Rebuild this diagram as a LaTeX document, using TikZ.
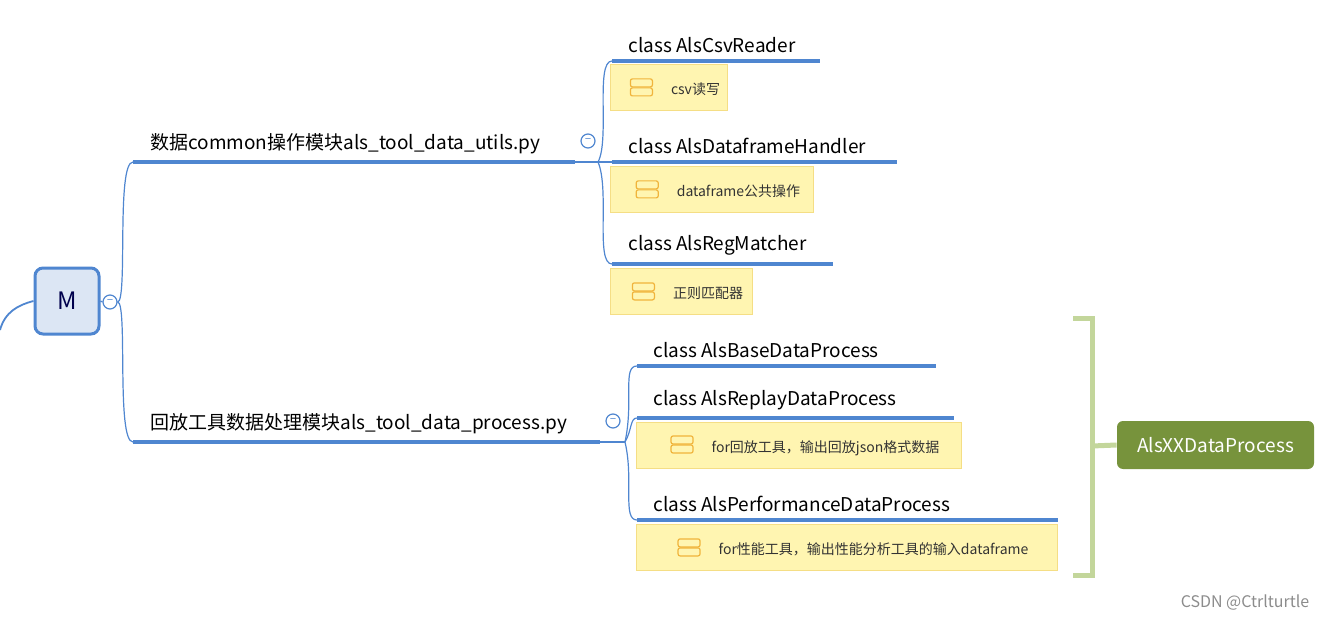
\documentclass[tikz,border=0pt]{standalone}
\usepackage{fontspec}
\setmainfont{Noto Sans CJK SC}
\usetikzlibrary{positioning}
\definecolor{linkblue}{HTML}{4F86D0}
\definecolor{rootfill}{HTML}{DCE6F4}
\definecolor{notefill}{HTML}{FFF5B1}
\definecolor{noteline}{HTML}{F5DE85}
\definecolor{iconline}{HTML}{F0B43C}
\definecolor{bracegreen}{HTML}{C3D69B}
\definecolor{sumfill}{HTML}{77933C}
\tikzset{
  link/.style = {draw=linkblue, line width=0.6pt},
  underline/.style = {draw=linkblue, line width=2pt},
  topic/.style = {anchor=south west, inner sep=1pt, font=\fontsize{9.5}{11}\selectfont},
  note/.style = {anchor=north west, draw=noteline, fill=notefill, minimum height=23pt,
    inner sep=0pt, align=left, font=\fontsize{7}{8}\selectfont, text=black!80},
  fold/.style = {circle, draw=linkblue, fill=white, minimum size=7pt, inner sep=0pt,
    line width=0.6pt, font=\fontsize{6}{6}\selectfont, text=linkblue}
}
\newcommand{\noteicon}{\tikz[baseline=0.5pt]{
  \draw[iconline, fill=notefill, rounded corners=1pt, line width=0.6pt] (0,0) rectangle (11pt,4pt);
  \draw[iconline, fill=notefill, rounded corners=1pt, line width=0.6pt] (0,4.5pt) rectangle (11pt,8.5pt);}}
\begin{document}
\begin{tikzpicture}[x=0.5pt, y=-0.5pt]
  \useasboundingbox (0,0) rectangle (1332,620);

  % root
  \node (root) [draw=linkblue, line width=1.5pt, fill=rootfill, rounded corners=4pt,
    minimum width=32pt, minimum height=33pt, text=black!70!blue,
    font=\fontsize{12}{12}\selectfont] at (67,301) {M};
  \draw[link, line width=0.9pt] (0,330) .. controls (5,312) and (18,305) .. (root.west);
  \node (rootfold) [fold] at (110,302) {--};
  \draw[link] (root.east) -- (rootfold.west);

  % first branch
  \coordinate (b1) at (133,162);
  \coordinate (b1e) at (575,162);
  \node (t1) [topic] at (148,156) {数据common操作模块als\_tool\_data\_utils.py};
  \draw[underline] (b1) -- (b1e);
  \draw[link] (rootfold.east) .. controls (128,302) and (116,162) .. (b1);
  \node (f1) [fold] at (588,141) {--};
  \coordinate (h1) at (598,162);
  \draw[link] (b1e) -- (h1);

  \coordinate (c1) at (612,61);
  \coordinate (c2) at (612,162);
  \coordinate (c3) at (612,264);
  \draw[link] (h1) .. controls (610,140) and (595,61) .. (c1);
  \draw[link] (h1) -- (c2);
  \draw[link] (h1) .. controls (610,190) and (595,264) .. (c3);
  \draw[underline] (c1) -- (820,61);
  \draw[underline] (c2) -- (897,162);
  \draw[underline] (c3) -- (833,264);
  \node (csvreader) [topic] at (626,55) {class AlsCsvReader};
  \node (dfhandler) [topic] at (626,156) {class AlsDataframeHandler};
  \node (regmatcher) [topic] at (626,258) {class AlsRegMatcher};
  \node (n1) [note, minimum width=58.5pt] at (610,64) {\hspace{6pt}\noteicon\hspace{9pt}csv读写};
  \node (n2) [note, minimum width=101.5pt] at (610,166) {\hspace{6pt}\noteicon\hspace{9pt}dataframe公共操作};
  \node (n3) [note, minimum width=71pt] at (610,268) {\hspace{6pt}\noteicon\hspace{9pt}正则匹配器};

  % second branch
  \coordinate (b2) at (133,442);
  \coordinate (b2e) at (600,442);
  \node (t2) [topic] at (148,436) {回放工具数据处理模块als\_tool\_data\_process.py};
  \draw[underline] (b2) -- (b2e);
  \draw[link] (rootfold.east) .. controls (128,302) and (116,442) .. (b2);
  \node (f2) [fold] at (613,421) {--};
  \coordinate (h2) at (625,442);
  \draw[link] (b2e) -- (h2);

  \coordinate (d1) at (637,366);
  \coordinate (d2) at (637,418);
  \coordinate (d3) at (637,520);
  \draw[link] (h2) .. controls (634,400) and (622,366) .. (d1);
  \draw[link] (h2) .. controls (632,430) and (630,418) .. (d2);
  \draw[link] (h2) .. controls (634,480) and (622,520) .. (d3);
  \draw[underline] (d1) -- (936,366);
  \draw[underline] (d2) -- (954,418);
  \draw[underline] (d3) -- (1058,520);
  \node (baseproc) [topic] at (651,360) {class AlsBaseDataProcess};
  \node (replayproc) [topic] at (651,412) {class AlsReplayDataProcess};
  \node (perfproc) [topic] at (651,514) {class AlsPerformanceDataProcess};
  \node (n4) [note, minimum width=162.5pt] at (636,422) {\hspace{6pt}\noteicon\hspace{9pt}for回放工具，输出回放json格式数据};
  \node (n5) [note, minimum width=210.5pt] at (636,524) {\hspace{6pt}\noteicon\hspace{9pt}for性能工具，输出性能分析工具的输入dataframe};

  % summary
  \draw[bracegreen, line width=2.5pt] (1073,318) -- (1092,318) -- (1092,575) -- (1073,575);
  \node (summary) [fill=sumfill, rounded corners=3pt, minimum width=98.5pt, minimum height=24pt,
    text=white, font=\fontsize{9.5}{11}\selectfont\itshape] at (1215.5,445) {AlsXXDataProcess};
  \draw[bracegreen, line width=2.5pt] (1092,446) -- (summary.west);

  \node (mark) [text=black!45, font=\fontsize{8}{9}\selectfont] at (1245,603) {CSDN @Ctrlturtle};
\end{tikzpicture}
\end{document}
